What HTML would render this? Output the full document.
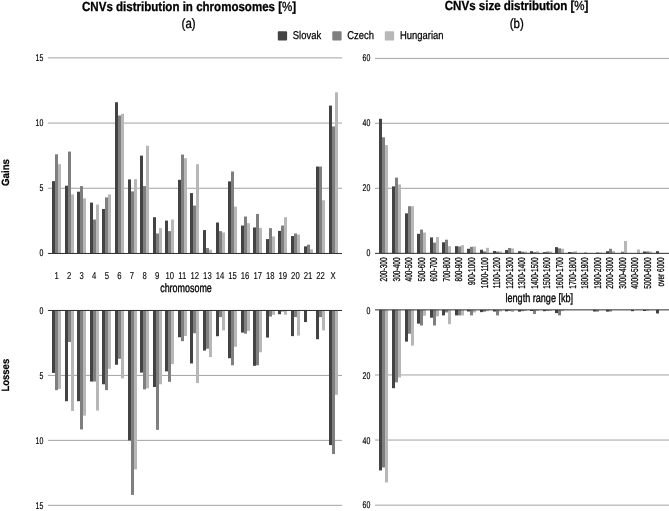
<!DOCTYPE html>
<html lang="en"><head><meta charset="utf-8"><title>CNVs distribution</title>
<style>
html,body{margin:0;padding:0;background:#fff;}
body{width:669px;height:511px;overflow:hidden;}
svg{display:block;font-family:"Liberation Sans",Arial,sans-serif;text-rendering:geometricPrecision;}
</style></head><body>
<svg width="669" height="511" viewBox="0 0 669 511">
<rect x="0" y="0" width="669" height="511" fill="#ffffff"/>
<rect x="47.90" y="57.32" width="294.10" height="1.10" fill="#aaaaaa"/>
<rect x="47.90" y="122.52" width="294.10" height="1.10" fill="#aaaaaa"/>
<rect x="47.90" y="187.72" width="294.10" height="1.10" fill="#aaaaaa"/>
<rect x="47.90" y="374.91" width="294.10" height="1.10" fill="#aaaaaa"/>
<rect x="47.90" y="439.85" width="294.10" height="1.10" fill="#aaaaaa"/>
<rect x="47.90" y="504.80" width="294.10" height="1.10" fill="#aaaaaa"/>
<rect x="52.00" y="181.13" width="3.00" height="72.33" fill="#434343"/>
<rect x="52.00" y="310.46" width="3.00" height="62.50" fill="#434343"/>
<rect x="55.00" y="154.31" width="3.00" height="99.15" fill="#7f7f7f"/>
<rect x="55.00" y="310.46" width="3.00" height="79.68" fill="#7f7f7f"/>
<rect x="58.00" y="164.20" width="3.00" height="89.26" fill="#b7b7b7"/>
<rect x="58.00" y="310.46" width="3.00" height="78.38" fill="#b7b7b7"/>
<rect x="65.00" y="185.69" width="3.00" height="67.77" fill="#434343"/>
<rect x="65.00" y="310.46" width="3.00" height="90.75" fill="#434343"/>
<rect x="68.00" y="151.57" width="3.00" height="101.89" fill="#7f7f7f"/>
<rect x="68.00" y="310.46" width="3.00" height="31.51" fill="#7f7f7f"/>
<rect x="71.00" y="194.41" width="3.00" height="59.05" fill="#b7b7b7"/>
<rect x="71.00" y="310.46" width="3.00" height="100.51" fill="#b7b7b7"/>
<rect x="77.00" y="191.68" width="3.00" height="61.78" fill="#434343"/>
<rect x="77.00" y="310.46" width="3.00" height="90.75" fill="#434343"/>
<rect x="80.00" y="186.08" width="3.00" height="67.38" fill="#7f7f7f"/>
<rect x="80.00" y="310.46" width="3.00" height="119.00" fill="#7f7f7f"/>
<rect x="83.00" y="198.32" width="3.00" height="55.14" fill="#b7b7b7"/>
<rect x="83.00" y="310.46" width="3.00" height="105.20" fill="#b7b7b7"/>
<rect x="90.00" y="202.61" width="3.00" height="50.85" fill="#434343"/>
<rect x="90.00" y="310.46" width="3.00" height="71.09" fill="#434343"/>
<rect x="93.00" y="219.54" width="3.00" height="33.92" fill="#7f7f7f"/>
<rect x="93.00" y="310.46" width="3.00" height="71.09" fill="#7f7f7f"/>
<rect x="96.00" y="204.57" width="3.00" height="48.89" fill="#b7b7b7"/>
<rect x="96.00" y="310.46" width="3.00" height="100.12" fill="#b7b7b7"/>
<rect x="102.00" y="208.99" width="3.00" height="44.47" fill="#434343"/>
<rect x="102.00" y="310.46" width="3.00" height="73.82" fill="#434343"/>
<rect x="105.00" y="197.40" width="3.00" height="56.06" fill="#7f7f7f"/>
<rect x="105.00" y="310.46" width="3.00" height="79.68" fill="#7f7f7f"/>
<rect x="108.00" y="194.41" width="3.00" height="59.05" fill="#b7b7b7"/>
<rect x="108.00" y="310.46" width="3.00" height="58.33" fill="#b7b7b7"/>
<rect x="115.00" y="102.23" width="3.00" height="151.23" fill="#434343"/>
<rect x="115.00" y="310.46" width="3.00" height="54.29" fill="#434343"/>
<rect x="118.00" y="115.51" width="3.00" height="137.95" fill="#7f7f7f"/>
<rect x="118.00" y="310.46" width="3.00" height="48.30" fill="#7f7f7f"/>
<rect x="121.00" y="113.82" width="3.00" height="139.64" fill="#b7b7b7"/>
<rect x="121.00" y="310.46" width="3.00" height="67.96" fill="#b7b7b7"/>
<rect x="128.00" y="179.44" width="3.00" height="74.02" fill="#434343"/>
<rect x="128.00" y="310.46" width="3.00" height="129.94" fill="#434343"/>
<rect x="131.00" y="191.42" width="3.00" height="62.04" fill="#7f7f7f"/>
<rect x="131.00" y="310.46" width="3.00" height="184.49" fill="#7f7f7f"/>
<rect x="134.00" y="179.18" width="3.00" height="74.28" fill="#b7b7b7"/>
<rect x="134.00" y="310.46" width="3.00" height="158.97" fill="#b7b7b7"/>
<rect x="140.00" y="155.61" width="3.00" height="97.85" fill="#434343"/>
<rect x="140.00" y="310.46" width="3.00" height="62.11" fill="#434343"/>
<rect x="143.00" y="186.08" width="3.00" height="67.38" fill="#7f7f7f"/>
<rect x="143.00" y="310.46" width="3.00" height="78.90" fill="#7f7f7f"/>
<rect x="146.00" y="145.72" width="3.00" height="107.74" fill="#b7b7b7"/>
<rect x="146.00" y="310.46" width="3.00" height="77.86" fill="#b7b7b7"/>
<rect x="153.00" y="217.19" width="3.00" height="36.27" fill="#434343"/>
<rect x="153.00" y="310.46" width="3.00" height="76.56" fill="#434343"/>
<rect x="156.00" y="233.47" width="3.00" height="19.99" fill="#7f7f7f"/>
<rect x="156.00" y="310.46" width="3.00" height="119.39" fill="#7f7f7f"/>
<rect x="159.00" y="228.13" width="3.00" height="25.33" fill="#b7b7b7"/>
<rect x="159.00" y="310.46" width="3.00" height="73.82" fill="#b7b7b7"/>
<rect x="165.00" y="220.58" width="3.00" height="32.88" fill="#434343"/>
<rect x="165.00" y="310.46" width="3.00" height="60.93" fill="#434343"/>
<rect x="168.00" y="231.13" width="3.00" height="22.33" fill="#7f7f7f"/>
<rect x="168.00" y="310.46" width="3.00" height="71.35" fill="#7f7f7f"/>
<rect x="171.00" y="219.54" width="3.00" height="33.92" fill="#b7b7b7"/>
<rect x="171.00" y="310.46" width="3.00" height="53.64" fill="#b7b7b7"/>
<rect x="178.00" y="179.83" width="3.00" height="73.63" fill="#434343"/>
<rect x="178.00" y="310.46" width="3.00" height="26.82" fill="#434343"/>
<rect x="181.00" y="154.57" width="3.00" height="98.89" fill="#7f7f7f"/>
<rect x="181.00" y="310.46" width="3.00" height="30.73" fill="#7f7f7f"/>
<rect x="184.00" y="158.21" width="3.00" height="95.25" fill="#b7b7b7"/>
<rect x="184.00" y="310.46" width="3.00" height="25.52" fill="#b7b7b7"/>
<rect x="190.00" y="193.11" width="3.00" height="60.35" fill="#434343"/>
<rect x="190.00" y="310.46" width="3.00" height="52.99" fill="#434343"/>
<rect x="193.00" y="205.61" width="3.00" height="47.85" fill="#7f7f7f"/>
<rect x="193.00" y="310.46" width="3.00" height="22.79" fill="#7f7f7f"/>
<rect x="196.00" y="164.20" width="3.00" height="89.26" fill="#b7b7b7"/>
<rect x="196.00" y="310.46" width="3.00" height="72.65" fill="#b7b7b7"/>
<rect x="203.00" y="230.08" width="3.00" height="23.38" fill="#434343"/>
<rect x="203.00" y="310.46" width="3.00" height="40.10" fill="#434343"/>
<rect x="206.00" y="248.05" width="3.00" height="5.41" fill="#7f7f7f"/>
<rect x="206.00" y="310.46" width="3.00" height="38.28" fill="#7f7f7f"/>
<rect x="209.00" y="249.75" width="3.00" height="3.72" fill="#b7b7b7"/>
<rect x="209.00" y="310.46" width="3.00" height="46.61" fill="#b7b7b7"/>
<rect x="216.00" y="222.53" width="3.00" height="30.93" fill="#434343"/>
<rect x="216.00" y="310.46" width="3.00" height="25.78" fill="#434343"/>
<rect x="219.00" y="231.13" width="3.00" height="22.33" fill="#7f7f7f"/>
<rect x="219.00" y="310.46" width="3.00" height="6.64" fill="#7f7f7f"/>
<rect x="222.00" y="232.43" width="3.00" height="21.03" fill="#b7b7b7"/>
<rect x="222.00" y="310.46" width="3.00" height="19.92" fill="#b7b7b7"/>
<rect x="228.00" y="181.39" width="3.00" height="72.07" fill="#434343"/>
<rect x="228.00" y="310.46" width="3.00" height="47.78" fill="#434343"/>
<rect x="231.00" y="171.49" width="3.00" height="81.97" fill="#7f7f7f"/>
<rect x="231.00" y="310.46" width="3.00" height="54.81" fill="#7f7f7f"/>
<rect x="234.00" y="206.65" width="3.00" height="46.81" fill="#b7b7b7"/>
<rect x="234.00" y="310.46" width="3.00" height="36.33" fill="#b7b7b7"/>
<rect x="241.00" y="225.53" width="3.00" height="27.93" fill="#434343"/>
<rect x="241.00" y="310.46" width="3.00" height="22.13" fill="#434343"/>
<rect x="244.00" y="216.54" width="3.00" height="36.92" fill="#7f7f7f"/>
<rect x="244.00" y="310.46" width="3.00" height="23.18" fill="#7f7f7f"/>
<rect x="247.00" y="223.18" width="3.00" height="30.28" fill="#b7b7b7"/>
<rect x="247.00" y="310.46" width="3.00" height="20.44" fill="#b7b7b7"/>
<rect x="253.00" y="227.48" width="3.00" height="25.98" fill="#434343"/>
<rect x="253.00" y="310.46" width="3.00" height="55.34" fill="#434343"/>
<rect x="256.00" y="213.94" width="3.00" height="39.52" fill="#7f7f7f"/>
<rect x="256.00" y="310.46" width="3.00" height="54.81" fill="#7f7f7f"/>
<rect x="259.00" y="227.87" width="3.00" height="25.59" fill="#b7b7b7"/>
<rect x="259.00" y="310.46" width="3.00" height="41.79" fill="#b7b7b7"/>
<rect x="266.00" y="239.07" width="3.00" height="14.39" fill="#434343"/>
<rect x="266.00" y="310.46" width="3.00" height="27.08" fill="#434343"/>
<rect x="269.00" y="228.13" width="3.00" height="25.33" fill="#7f7f7f"/>
<rect x="269.00" y="310.46" width="3.00" height="6.12" fill="#7f7f7f"/>
<rect x="272.00" y="236.46" width="3.00" height="17.00" fill="#b7b7b7"/>
<rect x="272.00" y="310.46" width="3.00" height="4.30" fill="#b7b7b7"/>
<rect x="278.00" y="230.87" width="3.00" height="22.59" fill="#434343"/>
<rect x="278.00" y="310.46" width="3.00" height="3.78" fill="#434343"/>
<rect x="281.00" y="225.53" width="3.00" height="27.93" fill="#7f7f7f"/>
<rect x="281.00" y="310.46" width="3.00" height="1.04" fill="#7f7f7f"/>
<rect x="284.00" y="217.19" width="3.00" height="36.27" fill="#b7b7b7"/>
<rect x="284.00" y="310.46" width="3.00" height="4.30" fill="#b7b7b7"/>
<rect x="291.00" y="236.07" width="3.00" height="17.39" fill="#434343"/>
<rect x="291.00" y="310.46" width="3.00" height="25.65" fill="#434343"/>
<rect x="294.00" y="233.47" width="3.00" height="19.99" fill="#7f7f7f"/>
<rect x="294.00" y="310.46" width="3.00" height="6.64" fill="#7f7f7f"/>
<rect x="297.00" y="234.51" width="3.00" height="18.95" fill="#b7b7b7"/>
<rect x="297.00" y="310.46" width="3.00" height="25.13" fill="#b7b7b7"/>
<rect x="304.00" y="246.36" width="3.00" height="7.10" fill="#434343"/>
<rect x="304.00" y="310.46" width="3.00" height="11.59" fill="#434343"/>
<rect x="307.00" y="244.67" width="3.00" height="8.79" fill="#7f7f7f"/>
<rect x="310.00" y="249.35" width="3.00" height="4.11" fill="#b7b7b7"/>
<rect x="316.00" y="166.55" width="3.00" height="86.91" fill="#434343"/>
<rect x="316.00" y="310.46" width="3.00" height="28.77" fill="#434343"/>
<rect x="319.00" y="166.55" width="3.00" height="86.91" fill="#7f7f7f"/>
<rect x="319.00" y="310.46" width="3.00" height="6.64" fill="#7f7f7f"/>
<rect x="322.00" y="200.27" width="3.00" height="53.19" fill="#b7b7b7"/>
<rect x="322.00" y="310.46" width="3.00" height="19.92" fill="#b7b7b7"/>
<rect x="329.00" y="105.61" width="3.00" height="147.85" fill="#434343"/>
<rect x="329.00" y="310.46" width="3.00" height="134.63" fill="#434343"/>
<rect x="332.00" y="126.45" width="3.00" height="127.01" fill="#7f7f7f"/>
<rect x="332.00" y="310.46" width="3.00" height="143.61" fill="#7f7f7f"/>
<rect x="335.00" y="92.33" width="3.00" height="161.13" fill="#b7b7b7"/>
<rect x="335.00" y="310.46" width="3.00" height="84.37" fill="#b7b7b7"/>
<rect x="47.90" y="252.96" width="294.10" height="1.00" fill="#2e2e2e"/>
<rect x="47.90" y="309.96" width="294.10" height="1.00" fill="#2e2e2e"/>
<rect x="375.00" y="57.91" width="294.00" height="1.10" fill="#aaaaaa"/>
<rect x="375.00" y="122.75" width="294.00" height="1.10" fill="#aaaaaa"/>
<rect x="375.00" y="187.79" width="294.00" height="1.10" fill="#aaaaaa"/>
<rect x="375.00" y="374.40" width="294.00" height="1.10" fill="#aaaaaa"/>
<rect x="375.00" y="439.50" width="294.00" height="1.10" fill="#aaaaaa"/>
<rect x="375.00" y="504.62" width="294.00" height="1.10" fill="#aaaaaa"/>
<rect x="379.00" y="118.78" width="3.00" height="134.56" fill="#434343"/>
<rect x="379.00" y="309.87" width="3.00" height="160.55" fill="#434343"/>
<rect x="382.00" y="137.30" width="3.00" height="116.04" fill="#7f7f7f"/>
<rect x="382.00" y="309.87" width="3.00" height="157.63" fill="#7f7f7f"/>
<rect x="385.00" y="145.10" width="3.00" height="108.24" fill="#b7b7b7"/>
<rect x="385.00" y="309.87" width="3.00" height="172.58" fill="#b7b7b7"/>
<rect x="392.00" y="186.38" width="3.00" height="66.97" fill="#434343"/>
<rect x="392.00" y="309.87" width="3.00" height="78.33" fill="#434343"/>
<rect x="395.00" y="177.60" width="3.00" height="75.74" fill="#7f7f7f"/>
<rect x="395.00" y="309.87" width="3.00" height="72.48" fill="#7f7f7f"/>
<rect x="398.00" y="184.43" width="3.00" height="68.92" fill="#b7b7b7"/>
<rect x="398.00" y="309.87" width="3.00" height="67.60" fill="#b7b7b7"/>
<rect x="405.00" y="213.35" width="3.00" height="39.99" fill="#434343"/>
<rect x="405.00" y="309.87" width="3.00" height="31.72" fill="#434343"/>
<rect x="408.00" y="206.20" width="3.00" height="47.14" fill="#7f7f7f"/>
<rect x="408.00" y="309.87" width="3.00" height="23.86" fill="#7f7f7f"/>
<rect x="411.00" y="206.20" width="3.00" height="47.14" fill="#b7b7b7"/>
<rect x="411.00" y="309.87" width="3.00" height="35.75" fill="#b7b7b7"/>
<rect x="417.00" y="233.82" width="3.00" height="19.52" fill="#434343"/>
<rect x="417.00" y="309.87" width="3.00" height="13.78" fill="#434343"/>
<rect x="420.00" y="229.60" width="3.00" height="23.74" fill="#7f7f7f"/>
<rect x="420.00" y="309.87" width="3.00" height="15.60" fill="#7f7f7f"/>
<rect x="423.00" y="232.53" width="3.00" height="20.82" fill="#b7b7b7"/>
<rect x="423.00" y="309.87" width="3.00" height="5.85" fill="#b7b7b7"/>
<rect x="430.00" y="237.40" width="3.00" height="15.94" fill="#434343"/>
<rect x="430.00" y="309.87" width="3.00" height="7.81" fill="#434343"/>
<rect x="433.00" y="242.60" width="3.00" height="10.74" fill="#7f7f7f"/>
<rect x="433.00" y="309.87" width="3.00" height="15.60" fill="#7f7f7f"/>
<rect x="436.00" y="237.07" width="3.00" height="16.27" fill="#b7b7b7"/>
<rect x="436.00" y="309.87" width="3.00" height="6.38" fill="#b7b7b7"/>
<rect x="442.00" y="242.28" width="3.00" height="11.07" fill="#434343"/>
<rect x="442.00" y="309.87" width="3.00" height="5.53" fill="#434343"/>
<rect x="445.00" y="239.68" width="3.00" height="13.67" fill="#7f7f7f"/>
<rect x="445.00" y="309.87" width="3.00" height="2.60" fill="#7f7f7f"/>
<rect x="448.00" y="246.18" width="3.00" height="7.17" fill="#b7b7b7"/>
<rect x="448.00" y="309.87" width="3.00" height="14.31" fill="#b7b7b7"/>
<rect x="455.00" y="246.18" width="3.00" height="7.17" fill="#434343"/>
<rect x="455.00" y="309.87" width="3.00" height="5.53" fill="#434343"/>
<rect x="458.00" y="246.50" width="3.00" height="6.84" fill="#7f7f7f"/>
<rect x="458.00" y="309.87" width="3.00" height="5.53" fill="#7f7f7f"/>
<rect x="461.00" y="245.20" width="3.00" height="8.14" fill="#b7b7b7"/>
<rect x="461.00" y="309.87" width="3.00" height="5.53" fill="#b7b7b7"/>
<rect x="467.00" y="248.78" width="3.00" height="4.57" fill="#434343"/>
<rect x="467.00" y="309.87" width="3.00" height="1.63" fill="#434343"/>
<rect x="470.00" y="246.82" width="3.00" height="6.52" fill="#7f7f7f"/>
<rect x="470.00" y="309.87" width="3.00" height="5.53" fill="#7f7f7f"/>
<rect x="473.00" y="246.50" width="3.00" height="6.84" fill="#b7b7b7"/>
<rect x="473.00" y="309.87" width="3.00" height="2.60" fill="#b7b7b7"/>
<rect x="480.00" y="249.75" width="3.00" height="3.59" fill="#434343"/>
<rect x="480.00" y="309.87" width="3.00" height="2.28" fill="#434343"/>
<rect x="483.00" y="251.38" width="3.00" height="1.97" fill="#7f7f7f"/>
<rect x="483.00" y="309.87" width="3.00" height="1.79" fill="#7f7f7f"/>
<rect x="486.00" y="247.80" width="3.00" height="5.54" fill="#b7b7b7"/>
<rect x="486.00" y="309.87" width="3.00" height="1.31" fill="#b7b7b7"/>
<rect x="493.00" y="251.05" width="3.00" height="2.29" fill="#434343"/>
<rect x="493.00" y="309.87" width="3.00" height="1.63" fill="#434343"/>
<rect x="496.00" y="251.54" width="3.00" height="1.80" fill="#7f7f7f"/>
<rect x="496.00" y="309.87" width="3.00" height="5.53" fill="#7f7f7f"/>
<rect x="499.00" y="251.54" width="3.00" height="1.80" fill="#b7b7b7"/>
<rect x="499.00" y="309.87" width="3.00" height="1.63" fill="#b7b7b7"/>
<rect x="505.00" y="250.07" width="3.00" height="3.27" fill="#434343"/>
<rect x="505.00" y="309.87" width="3.00" height="1.47" fill="#434343"/>
<rect x="508.00" y="247.96" width="3.00" height="5.38" fill="#7f7f7f"/>
<rect x="508.00" y="309.87" width="3.00" height="1.14" fill="#7f7f7f"/>
<rect x="511.00" y="248.45" width="3.00" height="4.89" fill="#b7b7b7"/>
<rect x="511.00" y="309.87" width="3.00" height="2.12" fill="#b7b7b7"/>
<rect x="518.00" y="251.21" width="3.00" height="2.13" fill="#434343"/>
<rect x="518.00" y="309.87" width="3.00" height="1.79" fill="#434343"/>
<rect x="521.00" y="251.70" width="3.00" height="1.64" fill="#7f7f7f"/>
<rect x="521.00" y="309.87" width="3.00" height="1.31" fill="#7f7f7f"/>
<rect x="524.00" y="251.54" width="3.00" height="1.80" fill="#b7b7b7"/>
<rect x="524.00" y="309.87" width="3.00" height="0.98" fill="#b7b7b7"/>
<rect x="530.00" y="251.21" width="3.00" height="2.13" fill="#434343"/>
<rect x="530.00" y="309.87" width="3.00" height="1.14" fill="#434343"/>
<rect x="533.00" y="252.19" width="3.00" height="1.15" fill="#7f7f7f"/>
<rect x="533.00" y="309.87" width="3.00" height="4.07" fill="#7f7f7f"/>
<rect x="536.00" y="251.38" width="3.00" height="1.97" fill="#b7b7b7"/>
<rect x="536.00" y="309.87" width="3.00" height="1.14" fill="#b7b7b7"/>
<rect x="543.00" y="252.19" width="3.00" height="1.15" fill="#434343"/>
<rect x="543.00" y="309.87" width="3.00" height="1.31" fill="#434343"/>
<rect x="546.00" y="251.54" width="3.00" height="1.80" fill="#7f7f7f"/>
<rect x="546.00" y="309.87" width="3.00" height="0.98" fill="#7f7f7f"/>
<rect x="549.00" y="251.54" width="3.00" height="1.80" fill="#b7b7b7"/>
<rect x="549.00" y="309.87" width="3.00" height="0.98" fill="#b7b7b7"/>
<rect x="555.00" y="247.15" width="3.00" height="6.19" fill="#434343"/>
<rect x="555.00" y="309.87" width="3.00" height="3.25" fill="#434343"/>
<rect x="558.00" y="248.29" width="3.00" height="5.05" fill="#7f7f7f"/>
<rect x="558.00" y="309.87" width="3.00" height="5.53" fill="#7f7f7f"/>
<rect x="561.00" y="248.78" width="3.00" height="4.57" fill="#b7b7b7"/>
<rect x="561.00" y="309.87" width="3.00" height="1.31" fill="#b7b7b7"/>
<rect x="568.00" y="252.03" width="3.00" height="1.32" fill="#434343"/>
<rect x="571.00" y="252.19" width="3.00" height="1.15" fill="#7f7f7f"/>
<rect x="574.00" y="251.21" width="3.00" height="2.13" fill="#b7b7b7"/>
<rect x="584.00" y="252.51" width="3.00" height="0.83" fill="#7f7f7f"/>
<rect x="593.00" y="309.87" width="3.00" height="1.63" fill="#434343"/>
<rect x="596.00" y="252.35" width="3.00" height="0.99" fill="#7f7f7f"/>
<rect x="596.00" y="309.87" width="3.00" height="1.79" fill="#7f7f7f"/>
<rect x="599.00" y="252.51" width="3.00" height="0.83" fill="#b7b7b7"/>
<rect x="606.00" y="251.21" width="3.00" height="2.13" fill="#434343"/>
<rect x="606.00" y="309.87" width="3.00" height="1.79" fill="#434343"/>
<rect x="609.00" y="248.78" width="3.00" height="4.57" fill="#7f7f7f"/>
<rect x="609.00" y="309.87" width="3.00" height="1.63" fill="#7f7f7f"/>
<rect x="612.00" y="251.05" width="3.00" height="2.29" fill="#b7b7b7"/>
<rect x="621.00" y="251.70" width="3.00" height="1.64" fill="#7f7f7f"/>
<rect x="624.00" y="240.97" width="3.00" height="12.37" fill="#b7b7b7"/>
<rect x="631.00" y="309.87" width="3.00" height="1.31" fill="#434343"/>
<rect x="637.00" y="249.43" width="3.00" height="3.92" fill="#b7b7b7"/>
<rect x="643.00" y="251.54" width="3.00" height="1.80" fill="#434343"/>
<rect x="643.00" y="309.87" width="3.00" height="1.14" fill="#434343"/>
<rect x="646.00" y="251.38" width="3.00" height="1.97" fill="#7f7f7f"/>
<rect x="646.00" y="309.87" width="3.00" height="0.65" fill="#7f7f7f"/>
<rect x="649.00" y="251.54" width="3.00" height="1.80" fill="#b7b7b7"/>
<rect x="656.00" y="251.21" width="3.00" height="2.13" fill="#434343"/>
<rect x="656.00" y="309.87" width="3.00" height="3.58" fill="#434343"/>
<rect x="375.00" y="252.84" width="294.00" height="1.00" fill="#2e2e2e"/>
<rect x="375.00" y="309.37" width="294.00" height="1.00" fill="#2e2e2e"/>
<text transform="translate(43.30,60.70) scale(0.71,1)" font-size="9.8" text-anchor="end" stroke="#000" stroke-width="0.2" fill="#000">15</text>
<text transform="translate(43.30,125.70) scale(0.71,1)" font-size="9.8" text-anchor="end" stroke="#000" stroke-width="0.2" fill="#000">10</text>
<text transform="translate(43.30,190.60) scale(0.71,1)" font-size="9.8" text-anchor="end" stroke="#000" stroke-width="0.2" fill="#000">5</text>
<text transform="translate(43.30,255.70) scale(0.71,1)" font-size="9.8" text-anchor="end" stroke="#000" stroke-width="0.2" fill="#000">0</text>
<text transform="translate(43.30,313.80) scale(0.71,1)" font-size="9.8" text-anchor="end" stroke="#000" stroke-width="0.2" fill="#000">0</text>
<text transform="translate(43.30,378.90) scale(0.71,1)" font-size="9.8" text-anchor="end" stroke="#000" stroke-width="0.2" fill="#000">5</text>
<text transform="translate(43.30,444.00) scale(0.71,1)" font-size="9.8" text-anchor="end" stroke="#000" stroke-width="0.2" fill="#000">10</text>
<text transform="translate(43.30,509.10) scale(0.71,1)" font-size="9.8" text-anchor="end" stroke="#000" stroke-width="0.2" fill="#000">15</text>
<text transform="translate(370.30,60.75) scale(0.71,1)" font-size="9.8" text-anchor="end" stroke="#000" stroke-width="0.2" fill="#000">60</text>
<text transform="translate(370.30,125.75) scale(0.71,1)" font-size="9.8" text-anchor="end" stroke="#000" stroke-width="0.2" fill="#000">40</text>
<text transform="translate(370.30,190.75) scale(0.71,1)" font-size="9.8" text-anchor="end" stroke="#000" stroke-width="0.2" fill="#000">20</text>
<text transform="translate(370.30,255.70) scale(0.71,1)" font-size="9.8" text-anchor="end" stroke="#000" stroke-width="0.2" fill="#000">0</text>
<text transform="translate(370.30,313.80) scale(0.71,1)" font-size="9.8" text-anchor="end" stroke="#000" stroke-width="0.2" fill="#000">0</text>
<text transform="translate(370.30,378.80) scale(0.71,1)" font-size="9.8" text-anchor="end" stroke="#000" stroke-width="0.2" fill="#000">20</text>
<text transform="translate(370.30,443.50) scale(0.71,1)" font-size="9.8" text-anchor="end" stroke="#000" stroke-width="0.2" fill="#000">40</text>
<text transform="translate(370.30,508.20) scale(0.71,1)" font-size="9.8" text-anchor="end" stroke="#000" stroke-width="0.2" fill="#000">60</text>
<text transform="translate(56.55,279.00) scale(0.77,1)" font-size="10" text-anchor="middle" stroke="#000" stroke-width="0.12" fill="#000">1</text>
<text transform="translate(69.12,279.00) scale(0.77,1)" font-size="10" text-anchor="middle" stroke="#000" stroke-width="0.12" fill="#000">2</text>
<text transform="translate(81.69,279.00) scale(0.77,1)" font-size="10" text-anchor="middle" stroke="#000" stroke-width="0.12" fill="#000">3</text>
<text transform="translate(94.26,279.00) scale(0.77,1)" font-size="10" text-anchor="middle" stroke="#000" stroke-width="0.12" fill="#000">4</text>
<text transform="translate(106.83,279.00) scale(0.77,1)" font-size="10" text-anchor="middle" stroke="#000" stroke-width="0.12" fill="#000">5</text>
<text transform="translate(119.40,279.00) scale(0.77,1)" font-size="10" text-anchor="middle" stroke="#000" stroke-width="0.12" fill="#000">6</text>
<text transform="translate(131.97,279.00) scale(0.77,1)" font-size="10" text-anchor="middle" stroke="#000" stroke-width="0.12" fill="#000">7</text>
<text transform="translate(144.54,279.00) scale(0.77,1)" font-size="10" text-anchor="middle" stroke="#000" stroke-width="0.12" fill="#000">8</text>
<text transform="translate(157.11,279.00) scale(0.77,1)" font-size="10" text-anchor="middle" stroke="#000" stroke-width="0.12" fill="#000">9</text>
<text transform="translate(169.68,279.00) scale(0.77,1)" font-size="10" text-anchor="middle" stroke="#000" stroke-width="0.12" fill="#000">10</text>
<text transform="translate(182.25,279.00) scale(0.77,1)" font-size="10" text-anchor="middle" stroke="#000" stroke-width="0.12" fill="#000">11</text>
<text transform="translate(194.82,279.00) scale(0.77,1)" font-size="10" text-anchor="middle" stroke="#000" stroke-width="0.12" fill="#000">12</text>
<text transform="translate(207.39,279.00) scale(0.77,1)" font-size="10" text-anchor="middle" stroke="#000" stroke-width="0.12" fill="#000">13</text>
<text transform="translate(219.96,279.00) scale(0.77,1)" font-size="10" text-anchor="middle" stroke="#000" stroke-width="0.12" fill="#000">14</text>
<text transform="translate(232.53,279.00) scale(0.77,1)" font-size="10" text-anchor="middle" stroke="#000" stroke-width="0.12" fill="#000">15</text>
<text transform="translate(245.10,279.00) scale(0.77,1)" font-size="10" text-anchor="middle" stroke="#000" stroke-width="0.12" fill="#000">16</text>
<text transform="translate(257.67,279.00) scale(0.77,1)" font-size="10" text-anchor="middle" stroke="#000" stroke-width="0.12" fill="#000">17</text>
<text transform="translate(270.24,279.00) scale(0.77,1)" font-size="10" text-anchor="middle" stroke="#000" stroke-width="0.12" fill="#000">18</text>
<text transform="translate(282.81,279.00) scale(0.77,1)" font-size="10" text-anchor="middle" stroke="#000" stroke-width="0.12" fill="#000">19</text>
<text transform="translate(295.38,279.00) scale(0.77,1)" font-size="10" text-anchor="middle" stroke="#000" stroke-width="0.12" fill="#000">20</text>
<text transform="translate(307.95,279.00) scale(0.77,1)" font-size="10" text-anchor="middle" stroke="#000" stroke-width="0.12" fill="#000">21</text>
<text transform="translate(320.52,279.00) scale(0.77,1)" font-size="10" text-anchor="middle" stroke="#000" stroke-width="0.12" fill="#000">22</text>
<text transform="translate(333.09,279.00) scale(0.77,1)" font-size="10" text-anchor="middle" stroke="#000" stroke-width="0.12" fill="#000">X</text>
<text transform="translate(186.00,292.20) scale(0.745,1)" font-size="12" text-anchor="middle" stroke="#000" stroke-width="0.35" fill="#000">chromosome</text>
<text transform="translate(387.00,257.40) rotate(-90) scale(0.655,1)" font-size="10" text-anchor="end" stroke="#000" stroke-width="0.3" fill="#000">200-300</text>
<text transform="translate(399.57,257.40) rotate(-90) scale(0.655,1)" font-size="10" text-anchor="end" stroke="#000" stroke-width="0.3" fill="#000">300-400</text>
<text transform="translate(412.14,257.40) rotate(-90) scale(0.655,1)" font-size="10" text-anchor="end" stroke="#000" stroke-width="0.3" fill="#000">400-500</text>
<text transform="translate(424.71,257.40) rotate(-90) scale(0.655,1)" font-size="10" text-anchor="end" stroke="#000" stroke-width="0.3" fill="#000">500-600</text>
<text transform="translate(437.28,257.40) rotate(-90) scale(0.655,1)" font-size="10" text-anchor="end" stroke="#000" stroke-width="0.3" fill="#000">600-700</text>
<text transform="translate(449.85,257.40) rotate(-90) scale(0.655,1)" font-size="10" text-anchor="end" stroke="#000" stroke-width="0.3" fill="#000">700-800</text>
<text transform="translate(462.42,257.40) rotate(-90) scale(0.655,1)" font-size="10" text-anchor="end" stroke="#000" stroke-width="0.3" fill="#000">800-900</text>
<text transform="translate(474.99,257.40) rotate(-90) scale(0.655,1)" font-size="10" text-anchor="end" stroke="#000" stroke-width="0.3" fill="#000">900-1000</text>
<text transform="translate(487.56,257.40) rotate(-90) scale(0.655,1)" font-size="10" text-anchor="end" stroke="#000" stroke-width="0.3" fill="#000">1000-1100</text>
<text transform="translate(500.13,257.40) rotate(-90) scale(0.655,1)" font-size="10" text-anchor="end" stroke="#000" stroke-width="0.3" fill="#000">1100-1200</text>
<text transform="translate(512.70,257.40) rotate(-90) scale(0.655,1)" font-size="10" text-anchor="end" stroke="#000" stroke-width="0.3" fill="#000">1200-1300</text>
<text transform="translate(525.27,257.40) rotate(-90) scale(0.655,1)" font-size="10" text-anchor="end" stroke="#000" stroke-width="0.3" fill="#000">1300-1400</text>
<text transform="translate(537.84,257.40) rotate(-90) scale(0.655,1)" font-size="10" text-anchor="end" stroke="#000" stroke-width="0.3" fill="#000">1400-1500</text>
<text transform="translate(550.41,257.40) rotate(-90) scale(0.655,1)" font-size="10" text-anchor="end" stroke="#000" stroke-width="0.3" fill="#000">1500-1600</text>
<text transform="translate(562.98,257.40) rotate(-90) scale(0.655,1)" font-size="10" text-anchor="end" stroke="#000" stroke-width="0.3" fill="#000">1600-1700</text>
<text transform="translate(575.55,257.40) rotate(-90) scale(0.655,1)" font-size="10" text-anchor="end" stroke="#000" stroke-width="0.3" fill="#000">1700-1800</text>
<text transform="translate(588.12,257.40) rotate(-90) scale(0.655,1)" font-size="10" text-anchor="end" stroke="#000" stroke-width="0.3" fill="#000">1800-1900</text>
<text transform="translate(600.69,257.40) rotate(-90) scale(0.655,1)" font-size="10" text-anchor="end" stroke="#000" stroke-width="0.3" fill="#000">1900-2000</text>
<text transform="translate(613.26,257.40) rotate(-90) scale(0.655,1)" font-size="10" text-anchor="end" stroke="#000" stroke-width="0.3" fill="#000">2000-3000</text>
<text transform="translate(625.83,257.40) rotate(-90) scale(0.655,1)" font-size="10" text-anchor="end" stroke="#000" stroke-width="0.3" fill="#000">3000-4000</text>
<text transform="translate(638.40,257.40) rotate(-90) scale(0.655,1)" font-size="10" text-anchor="end" stroke="#000" stroke-width="0.3" fill="#000">4000-5000</text>
<text transform="translate(650.97,257.40) rotate(-90) scale(0.655,1)" font-size="10" text-anchor="end" stroke="#000" stroke-width="0.3" fill="#000">5000-6000</text>
<text transform="translate(663.54,257.40) rotate(-90) scale(0.655,1)" font-size="10" text-anchor="end" stroke="#000" stroke-width="0.3" fill="#000">over 6000</text>
<text transform="translate(539.30,302.20) scale(0.756,1)" font-size="12" text-anchor="middle" stroke="#000" stroke-width="0.35" fill="#000">length range [kb]</text>
<text transform="translate(189.10,10.60) scale(0.875,1)" font-size="13.2" text-anchor="middle" font-weight="bold" stroke="#000" stroke-width="0.3" fill="#000">CNVs distribution in chromosomes [<tspan font-weight="normal">%</tspan>]</text>
<text transform="translate(188.60,27.60) scale(0.85,1)" font-size="13.5" text-anchor="middle" stroke="#000" stroke-width="0.3" fill="#000">(a)</text>
<text transform="translate(516.60,10.40) scale(0.875,1)" font-size="13.2" text-anchor="middle" font-weight="bold" stroke="#000" stroke-width="0.3" fill="#000">CNVs size distribution [<tspan font-weight="normal">%</tspan>]</text>
<text transform="translate(516.80,27.60) scale(0.85,1)" font-size="13.5" text-anchor="middle" stroke="#000" stroke-width="0.3" fill="#000">(b)</text>
<text transform="translate(9.10,172.50) rotate(-90) scale(0.92,1)" font-size="10.5" text-anchor="middle" font-weight="bold" stroke="#000" stroke-width="0.25" fill="#000">Gains</text>
<text transform="translate(9.10,375.20) rotate(-90) scale(0.905,1)" font-size="10.5" text-anchor="middle" font-weight="bold" stroke="#000" stroke-width="0.25" fill="#000">Losses</text>
<rect x="277.8" y="31.3" width="9.3" height="9.1" rx="0.9" fill="#434343"/>
<text transform="translate(292.80,38.90) scale(0.835,1)" font-size="11.3" text-anchor="start" stroke="#000" stroke-width="0.25" fill="#000">Slovak</text>
<rect x="332.3" y="31.3" width="9.3" height="9.1" rx="0.9" fill="#7f7f7f"/>
<text transform="translate(347.30,38.90) scale(0.835,1)" font-size="11.3" text-anchor="start" stroke="#000" stroke-width="0.25" fill="#000">Czech</text>
<rect x="384.8" y="31.3" width="9.3" height="9.1" rx="0.9" fill="#b7b7b7"/>
<text transform="translate(400.00,38.90) scale(0.835,1)" font-size="11.3" text-anchor="start" stroke="#000" stroke-width="0.25" fill="#000">Hungarian</text>
</svg>
</body></html>
